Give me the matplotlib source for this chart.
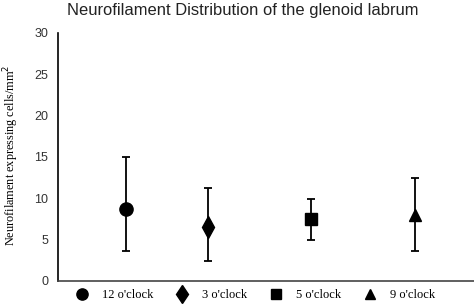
import matplotlib.pyplot as plt
from matplotlib.lines import Line2D

# datos
labels = ["12 o'clock", "3 o'clock", "5 o'clock", "9 o'clock"]
posiciones = [0.8, 1.77, 2.98, 4.2]
medias = [8.7, 6.5, 7.5, 8.0]
sup = [15.0, 11.2, 9.9, 12.5]
inf = [3.6, 2.4, 5.0, 3.6]
marcadores = ["o", "d", "s", "^"]
tamanos = [9.5, 11, 8, 9]

fig = plt.figure(figsize=(4.74, 3.05), dpi=100)
ax = fig.add_axes([0.122, 0.079, 0.878, 0.813])

handles = []
for x, m, s, i, mk, ms, lab in zip(posiciones, medias, sup, inf, marcadores, tamanos, labels):
    err = [[m - i], [s - m]]
    ax.errorbar([x], [m], yerr=err, fmt=mk, color="black", ms=ms,
                elinewidth=1.3, capsize=3, capthick=1.3)
    handles.append(Line2D([], [], marker=mk, ls="", color="black", ms=ms * 0.85))

ax.set_xlim(0, 4.9)
ax.set_ylim(0, 30)
ax.set_yticks(range(0, 31, 5))
ax.set_xticks([])
ax.tick_params(axis="y", length=0, pad=7, labelsize=9, labelcolor="#333333")
for t in ax.get_yticklabels():
    t.set_fontfamily("Liberation Sans")
ax.spines["top"].set_visible(False)
ax.spines["right"].set_visible(False)
ax.spines["left"].set_linewidth(1.2)
ax.spines["bottom"].set_linewidth(1.2)
ax.spines["bottom"].set_color("#444444")

fig.text(0.023, 0.49, "Neurofilament expressing cells/mm$^2$", rotation=90,
         ha="center", va="center", fontfamily="Liberation Serif", fontsize=8.8)

fig.text(0.513, 0.965, "Neurofilament Distribution of the glenoid labrum",
         ha="center", va="center", fontfamily="Liberation Sans", fontsize=11.9, color="#222222")

fig.legend(handles, labels, loc="center", bbox_to_anchor=(0.538, 0.032), ncol=4,
           frameon=False, prop={"family": "Liberation Serif", "size": 9},
           handletextpad=1.0, columnspacing=1.7, handlelength=1.2)

fig.savefig("out.png", dpi=100)
